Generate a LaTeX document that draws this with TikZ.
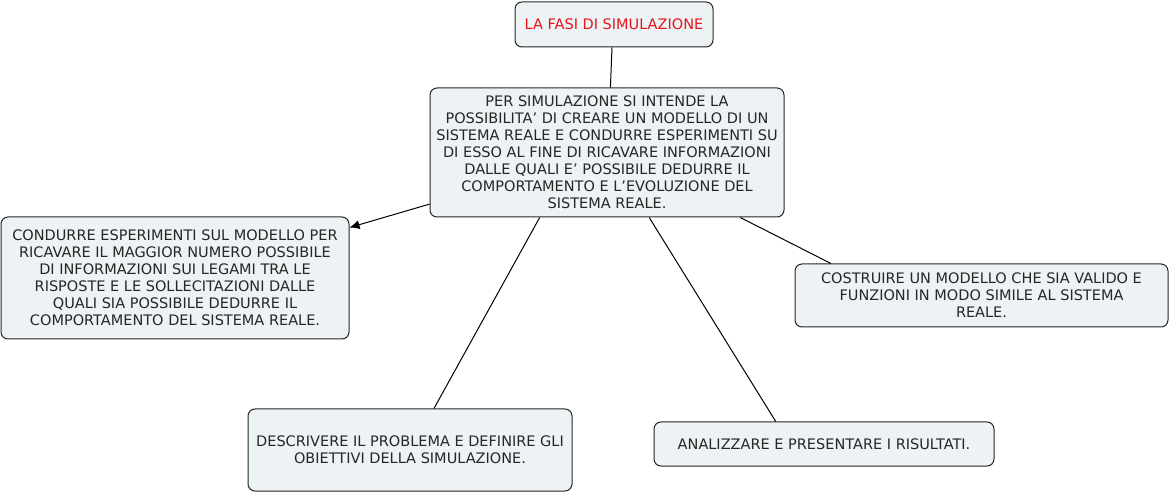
\documentclass[tikz,border=0pt]{standalone}
\usepackage{fontspec}
\setmainfont{DejaVu Sans}
\usepackage{xcolor}
\usepackage{tikz}
\usetikzlibrary{arrows.meta, positioning}
\usetikzlibrary{calc}

\definecolor{boxfill}{HTML}{EDF2F4}
\definecolor{titlered}{HTML}{E8141B}

\begin{document}
\begin{tikzpicture}[x=1pt,y=-1pt,line width=1pt,
    concept/.style={draw=black!85,fill=boxfill,rounded corners=7pt,line width=1pt,
      inner sep=0pt,align=center,text=black!85,font=\fontsize{14.5}{17}\selectfont}]
            \useasboundingbox (0,0) rectangle (1171,494);
            \node[concept,minimum width=198,minimum height=45,text=titlered](title) at (614,24.5) {LA FASI DI SIMULAZIONE};
            \node[concept,minimum width=354,minimum height=129](main) at (607,152.5) {PER SIMULAZIONE SI INTENDE LA\\POSSIBILITA' DI CREARE UN MODELLO DI UN\\SISTEMA REALE E CONDURRE ESPERIMENTI SU\\DI ESSO AL FINE DI RICAVARE INFORMAZIONI\\DALLE QUALI E' POSSIBILE DEDURRE IL\\COMPORTAMENTO E L'EVOLUZIONE DEL\\SISTEMA REALE.};
            \node[concept,minimum width=348,minimum height=122](esper) at (175,278) {CONDURRE ESPERIMENTI SUL MODELLO PER\\RICAVARE IL MAGGIOR NUMERO POSSIBILE\\DI INFORMAZIONI SUI LEGAMI TRA LE\\RISPOSTE E LE SOLLECITAZIONI DALLE\\QUALI SIA POSSIBILE DEDURRE IL\\COMPORTAMENTO DEL SISTEMA REALE.};
            \node[concept,minimum width=373,minimum height=63](modello) at (981.5,295.5) {COSTRUIRE UN MODELLO CHE SIA VALIDO E\\FUNZIONI IN MODO SIMILE AL SISTEMA\\REALE.};
            \node[concept,minimum width=324,minimum height=82](problema) at (410,450) {DESCRIVERE IL PROBLEMA E DEFINIRE GLI\\OBIETTIVI DELLA SIMULAZIONE.};
            \node[concept,minimum width=340,minimum height=44](risultati) at (824,444) {ANALIZZARE E PRESENTARE I RISULTATI.};
            \draw (title.265) -- (main.87);
            \draw[-{Latex[length=10pt,width=9pt]}] (main) -- (esper);
            \draw (main.224) -- (problema.60);
            \draw (main.303) -- (risultati.155);
            \draw (main.334) -- (modello.168);
        \end{tikzpicture}
\end{document}
